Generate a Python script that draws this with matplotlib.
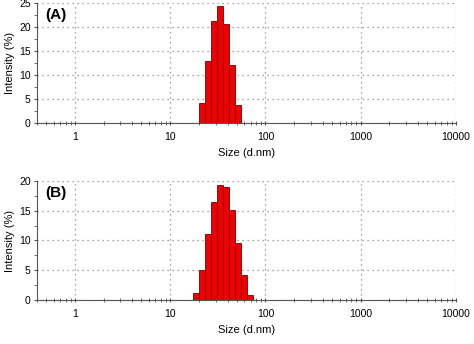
import numpy as np
import matplotlib
matplotlib.use('Agg')
import matplotlib.pyplot as plt
from matplotlib.ticker import LogLocator, NullFormatter, MultipleLocator

plt.rcParams['font.family'] = ['Liberation Sans', 'DejaVu Sans']

# bin edges (d.nm) and intensities (%)
edges_a = [19.9, 23.0, 26.6, 30.7, 35.5, 41.0, 47.4, 54.8]
intensity_a = [4.3, 12.9, 21.3, 24.4, 20.7, 12.1, 3.7]

edges_b = [17.2, 19.9, 23.0, 26.6, 30.7, 35.5, 41.0, 47.4, 54.8, 63.3, 73.2]
intensity_b = [1.1, 5.1, 11.1, 16.4, 19.4, 18.9, 15.1, 9.6, 4.2, 0.8]

x_ticks = [1, 10, 100, 1000, 10000]
x_labels = ['1', '10', '100', '1000', '10000']


def draw(ax, edges, vals, ymax, tag):
    edges = np.array(edges)
    ax.bar(edges[:-1], vals, width=np.diff(edges), align='edge',
           color='#ee0000', edgecolor='#7a0000', linewidth=0.6, zorder=3)
    ax.set_xscale('log')
    ax.set_xlim(0.4, 10000)
    ax.set_ylim(0, ymax)
    ax.set_xticks(x_ticks)
    ax.set_xticklabels(x_labels)
    ax.xaxis.set_minor_locator(LogLocator(base=10, subs=np.arange(2, 10)))
    ax.xaxis.set_minor_formatter(NullFormatter())
    ax.yaxis.set_major_locator(MultipleLocator(5))
    ax.yaxis.set_minor_locator(MultipleLocator(2.5))
    ax.grid(True, which='major', linestyle=(0, (1, 3)), color='#888888',
            linewidth=0.9, zorder=0)
    for s in ('top', 'right'):
        ax.spines[s].set_visible(False)
    ax.spines['bottom'].set_color('#555555')
    ax.spines['left'].set_color('#555555')
    ax.tick_params(which='both', colors='#555555', labelcolor='black',
                   labelsize=7.5)
    ax.tick_params(axis='x', which='both', direction='inout', length=3,
                   pad=5)
    ax.tick_params(axis='y', which='both', direction='out', length=2.5,
                   pad=2)
    ax.set_xlabel('Size (d.nm)', fontsize=8, labelpad=4)
    ax.set_ylabel('Intensity (%)', fontsize=8, labelpad=3)
    ax.text(0.02, 0.96, tag, transform=ax.transAxes, fontsize=11,
            fontweight='bold', va='top', ha='left')


fig = plt.figure(figsize=(4.74, 3.44), dpi=100)
ax1 = fig.add_axes([0.078, 0.642, 0.884, 0.349])
ax2 = fig.add_axes([0.078, 0.128, 0.884, 0.346])

draw(ax1, edges_a, intensity_a, 25, '(A)')
draw(ax2, edges_b, intensity_b, 20, '(B)')

fig.savefig('out.png', dpi=100)
